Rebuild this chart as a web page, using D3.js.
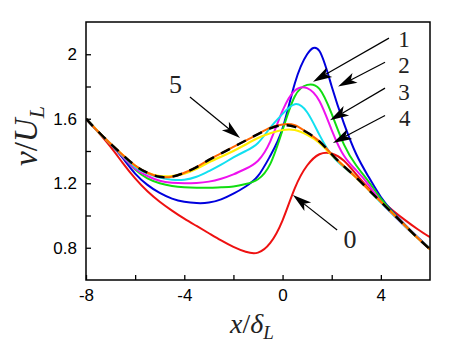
<!DOCTYPE html>
<html><head><meta charset="utf-8">
<script src="https://cdn.jsdelivr.net/npm/d3@7"></script>
<style>html,body{margin:0;padding:0;background:#fff;}svg{display:block;}</style>
</head><body>
<svg id="c" width="474" height="348"></svg>
<script>
// shared x grid (x / delta_L)
const xs = [-8,-7.5,-7,-6.5,-6,-5.5,-5,-4.5,-4,-3.5,-3,-2.5,-2,-1.5,-1,-0.5,0,0.5,1,1.5,2,2.5,3,3.5,4,4.5,5,5.5,6];
// v / U_L series
const curve0 = [1.6,1.515,1.425,1.325,1.23,1.15,1.085,1.03,0.98,0.935,0.89,0.845,0.805,0.775,0.77,0.83,0.97,1.17,1.31,1.38,1.385,1.34,1.255,1.17,1.095,1.03,0.97,0.915,0.865];
const curve1 = [1.6,1.52,1.445,1.355,1.26,1.19,1.14,1.105,1.085,1.077,1.08,1.10,1.135,1.18,1.245,1.37,1.54,1.82,2.0,2.02,1.80,1.57,1.38,1.24,1.115,1.02,0.94,0.865,0.795];
const curve2 = [1.6,1.52,1.445,1.365,1.285,1.23,1.20,1.183,1.175,1.172,1.172,1.175,1.18,1.195,1.225,1.32,1.53,1.74,1.81,1.785,1.63,1.44,1.31,1.21,1.105,1.015,0.935,0.86,0.795];
const curve3 = [1.6,1.52,1.445,1.365,1.29,1.245,1.215,1.203,1.20,1.202,1.21,1.228,1.255,1.29,1.34,1.46,1.65,1.775,1.79,1.71,1.53,1.37,1.28,1.19,1.085,1.005,0.93,0.86,0.79];
const curve4 = [1.6,1.52,1.445,1.37,1.30,1.26,1.235,1.222,1.222,1.24,1.275,1.315,1.36,1.40,1.45,1.545,1.63,1.69,1.64,1.50,1.375,1.30,1.235,1.16,1.08,1.005,0.93,0.86,0.79];
const curveY = [1.6,1.52,1.445,1.375,1.31,1.265,1.245,1.245,1.26,1.29,1.33,1.365,1.40,1.44,1.48,1.51,1.53,1.53,1.50,1.45,1.375,1.305,1.235,1.16,1.085,1.01,0.935,0.86,0.79];
const curveO = [1.6,1.52,1.445,1.375,1.31,1.265,1.24,1.24,1.265,1.30,1.345,1.385,1.425,1.465,1.505,1.545,1.565,1.56,1.515,1.46,1.38,1.305,1.235,1.16,1.085,1.01,0.935,0.86,0.79];
const curve5 = [1.6,1.52,1.445,1.375,1.31,1.265,1.24,1.24,1.265,1.30,1.345,1.385,1.425,1.465,1.505,1.54,1.56,1.55,1.515,1.46,1.38,1.305,1.235,1.16,1.085,1.01,0.935,0.86,0.79];

const xTicks = [-8,-6,-4,-2,0,2,4];
const xTickLabels = ["-8","","-4","","0","","4"];
const yTicks = [0.8,1.0,1.2,1.4,1.6,1.8,2.0];
const yTickLabels = ["0.8","","1.2","","1.6","","2"];

// annotations
const arrowLabels = ["1","2","3","4","5","0"];
const arrowStartX = [4.33,4.17,4.17,4.17,-3.77,2.22];
const arrowStartV = [2.10,1.95,1.79,1.62,1.735,0.91];
const arrowTipX   = [1.24,2.26,1.93,2.05,-1.73,0.42];
const arrowTipV   = [1.83,1.80,1.59,1.45,1.48,1.127];
const labelX      = [4.94,4.94,4.94,4.97,-4.36,2.74];
const labelV      = [2.045,1.884,1.716,1.555,1.76,0.80];
const labelSize   = [23,23,23,23,26,26];

const svg = d3.select("#c");
const L = 86, R = 430, T = 22, B = 280;
const x = d3.scaleLinear().domain([-8,6]).range([L,R]);
const y = d3.scaleLinear().domain([0.6,2.2]).range([B,T]);

const defs = svg.append("defs");
defs.append("clipPath").attr("id","clip").append("rect")
  .attr("x",L).attr("y",T).attr("width",R-L).attr("height",B-T);

const series = [
  {v:curve0, c:"#ee1111", w:2},
  {v:curve1, c:"#0000dd", w:2},
  {v:curve2, c:"#11dd11", w:2},
  {v:curve3, c:"#ee11ee", w:2},
  {v:curve4, c:"#11e0f0", w:2},
  {v:curveY, c:"#ffee00", w:2.2},
  {v:curveO, c:"#ff6600", w:2},
  {v:curve5, c:"#000000", w:2.4, dash:"10,8"}
];
const line = d3.line().x(d=>x(d[0])).y(d=>y(d[1])).curve(d3.curveNatural);
const g = svg.append("g").attr("clip-path","url(#clip)");
series.forEach(s=>{
  g.append("path").attr("d", line(xs.map((xx,i)=>[xx,s.v[i]])))
    .attr("fill","none").attr("stroke",s.c).attr("stroke-width",s.w)
    .attr("stroke-dasharray", s.dash||null).attr("stroke-linejoin","round");
});

// frame
svg.append("rect").attr("x",L).attr("y",T).attr("width",R-L).attr("height",B-T)
  .attr("fill","none").attr("stroke","#000").attr("stroke-width",1.5);

// axes (ticks inward)
const xAxis = d3.axisBottom(x).tickValues(xTicks).tickSize(-5).tickPadding(9)
  .tickFormat((d,i)=>xTickLabels[i]);
const gx = svg.append("g").attr("transform",`translate(0,${B})`).call(xAxis);
const yAxis = d3.axisLeft(y).tickValues(yTicks).tickSize(-5).tickPadding(9)
  .tickFormat((d,i)=>yTickLabels[i]);
const gy = svg.append("g").attr("transform",`translate(${L},0)`).call(yAxis);
[gx,gy].forEach(a=>{
  a.select(".domain").remove();
  a.selectAll(".tick line").attr("stroke","#000").attr("stroke-width",1.3);
  a.selectAll(".tick text").attr("font-family","Liberation Sans, Arial, sans-serif")
    .attr("font-size",17).attr("fill","#000");
});

// arrows
arrowLabels.forEach((lab,i)=>{
  const x1 = x(arrowStartX[i]), y1 = y(arrowStartV[i]);
  const x2 = x(arrowTipX[i]), y2 = y(arrowTipV[i]);
  const ang = Math.atan2(y2-y1, x2-x1);
  const hl = 19, hw = 5.5;
  const ux = Math.cos(ang), uy = Math.sin(ang);
  const bx = x2 - ux*hl, by = y2 - uy*hl;
  const nx = x2 - ux*hl*0.75, ny = y2 - uy*hl*0.75;
  svg.append("line").attr("x1",x1).attr("y1",y1).attr("x2",nx).attr("y2",ny)
    .attr("stroke","#000").attr("stroke-width",1.2);
  const pts = [[x2,y2],[bx - uy*hw, by + ux*hw],[nx,ny],[bx + uy*hw, by - ux*hw]];
  svg.append("path").attr("d","M"+pts.map(p=>p.join(",")).join("L")+"Z").attr("fill","#000");
  svg.append("text").attr("x",x(labelX[i])).attr("y",y(labelV[i]))
    .attr("text-anchor","middle").attr("font-family","Liberation Serif, Times New Roman, serif")
    .attr("font-size",labelSize[i]).attr("fill","#222").text(lab);
});

// axis titles
const xt = svg.append("text").attr("x",252).attr("y",333).attr("text-anchor","middle")
  .attr("font-family","Liberation Serif, serif").attr("font-size",28).attr("fill","#222");
xt.append("tspan").attr("font-style","italic").text("x");
xt.append("tspan").text("/");
xt.append("tspan").attr("font-style","italic").text("δ");
xt.append("tspan").attr("font-style","italic").attr("font-size",19).attr("dy",6).text("L");

const yt = svg.append("text").attr("transform","translate(37,136) rotate(-90)").attr("text-anchor","middle")
  .attr("font-family","Liberation Serif, serif").attr("font-size",33).attr("fill","#222");
yt.append("tspan").attr("font-style","italic").text("v");
yt.append("tspan").text("/");
yt.append("tspan").attr("font-style","italic").text("U");
yt.append("tspan").attr("font-style","italic").attr("font-size",22).attr("dy",7).text("L");
</script>
</body></html>
